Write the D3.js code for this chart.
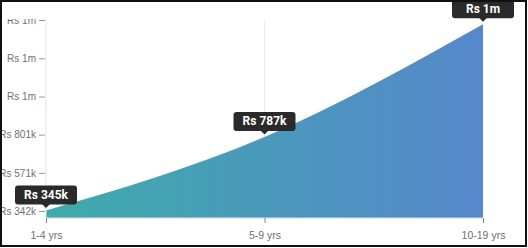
<!DOCTYPE html>
<html>
<head>
<meta charset="utf-8">
<script src="https://cdn.jsdelivr.net/npm/d3@7"></script>
<style>
  body { margin: 0; background: #fff; }
  svg { display: block; font-family: Roboto, "Noto Sans", sans-serif; }
</style>
</head>
<body>
<div id="chart"></div>
<script>
// data
var categories = ["1-4 yrs", "5-9 yrs", "10-19 yrs"];
var salaries = [345000, 787000, 1465000];
var pointLabels = ["Rs 345k", "Rs 787k", "Rs 1m"];
var yTicks = [342000, 571000, 801000, 1030000, 1260000, 1490000];
var yTickLabels = ["Rs 342k", "Rs 571k", "Rs 801k", "Rs 1m", "Rs 1m", "Rs 1m"];

var W = 528, H = 248;
var margin = {top: 20, right: 45, bottom: 30, left: 46};

var svg = d3.select("#chart")
  .append("svg")
    .attr("width", W)
    .attr("height", H);

var defs = svg.append("defs");
var grad = defs.append("linearGradient")
    .attr("id", "areaGrad")
    .attr("x1", "0%").attr("x2", "100%")
    .attr("y1", "0%").attr("y2", "0%");
grad.append("stop").attr("offset", "0%").attr("stop-color", "#3eabab");
grad.append("stop").attr("offset", "100%").attr("stop-color", "#5687cb");

// the top tick label is cut in the original, clip the axis the same way
defs.append("clipPath").attr("id", "axisClip")
  .append("rect").attr("x", -60).attr("y", 19).attr("width", 70).attr("height", 230);

// scales
var x = d3.scalePoint()
  .domain(categories)
  .range([margin.left, W - margin.right]);

var y = d3.scaleLinear()
  .domain([300000, 1490000])
  .range([H - margin.bottom, margin.top]);

var data = categories.map(function(c, i) {
  return {cat: c, value: salaries[i], label: pointLabels[i]};
});

// vertical grid line in the middle
svg.append("line")
  .attr("x1", x(categories[1])).attr("x2", x(categories[1]))
  .attr("y1", y.range()[1]).attr("y2", y.range()[0])
  .attr("stroke", "#ececec");

// area
var area = d3.area()
  .x(function(d) { return x(d.cat); })
  .y0(y(300000))
  .y1(function(d) { return y(d.value); })
  .curve(d3.curveMonotoneX);

svg.append("path")
  .datum(data)
  .attr("d", area)
  .attr("fill", "url(#areaGrad)");

// Y axis
var yAxis = svg.append("g")
  .attr("clip-path", "url(#axisClip)")
  .attr("transform", "translate(" + (margin.left - 1) + ",0)")
  .call(d3.axisLeft(y)
    .tickValues(yTicks)
    .tickFormat(function(d, i) { return yTickLabels[i]; })
    .tickSize(6)
    .tickPadding(3));
yAxis.select(".domain").attr("stroke", "#e4e4e4").attr("d", "M1," + y.range()[1] + "V" + y.range()[0]);
yAxis.selectAll(".tick line").attr("stroke", "#999");
yAxis.selectAll(".tick text").attr("fill", "#707070").style("font-size", "10px");

// X axis
var xAxis = svg.append("g")
  .attr("transform", "translate(0," + y(300000) + ")")
  .call(d3.axisBottom(x).tickSize(5).tickPadding(9));
xAxis.select(".domain").attr("stroke", "#cfe0ea").attr("d", "M" + x.range()[0] + ",0H" + x.range()[1]);
xAxis.selectAll(".tick line").attr("stroke", "#888");
xAxis.selectAll(".tick text").attr("fill", "#707070").style("font-size", "10.5px");

// faint minor ticks between categories
var mids = [ (x(categories[0]) + x(categories[1])) / 2, (x(categories[1]) + x(categories[2])) / 2 ];
xAxis.selectAll(".minor")
  .data(mids)
  .enter().append("line")
  .attr("x1", function(d) { return d; }).attr("x2", function(d) { return d; })
  .attr("y1", -1).attr("y2", 1)
  .attr("stroke", "#ccc");

// value tooltips
var tipW = 62, tipH = 19, gap = 6;
var tips = svg.selectAll(".tip")
  .data(data)
  .enter().append("g")
  .attr("class", "tip")
  .attr("transform", function(d) {
    return "translate(" + x(d.cat) + "," + y(d.value) + ")";
  });

tips.append("rect")
  .attr("x", -tipW / 2)
  .attr("y", -gap - tipH)
  .attr("width", tipW)
  .attr("height", tipH)
  .attr("rx", 3)
  .attr("fill", "#2a2a2a");

tips.append("path")
  .attr("d", "M-4," + (-gap - 0.5) + "L0," + (-gap + 3.5) + "L4," + (-gap - 0.5) + "Z")
  .attr("fill", "#2a2a2a");

tips.append("text")
  .attr("x", 0)
  .attr("y", -gap - tipH / 2 + 4)
  .attr("text-anchor", "middle")
  .attr("fill", "#fff")
  .style("font-size", "12px")
  .style("font-weight", "bold")
  .text(function(d) { return d.label; });

// frame
svg.append("rect")
  .attr("x", 1).attr("y", 1)
  .attr("width", W - 3).attr("height", H - 3)
  .attr("fill", "none")
  .attr("stroke", "#111")
  .attr("stroke-width", 2);
</script>
</body>
</html>
